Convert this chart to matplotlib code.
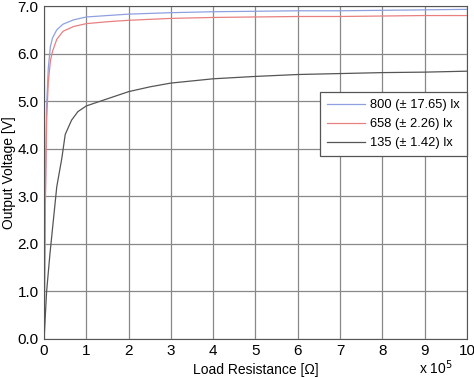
import numpy as np
import matplotlib.pyplot as plt

plt.rcParams['font.family'] = ['Liberation Sans', 'DejaVu Sans']

# load resistance in units of 1e5 ohm
r_800 = [0, 0.03, 0.06, 0.1, 0.15, 0.2, 0.3, 0.45, 0.7, 1.0, 1.5, 2, 3, 4, 5, 6, 7, 8, 9, 10]
v_800 = [0, 3.0, 4.9, 5.7, 6.15, 6.33, 6.5, 6.62, 6.71, 6.77, 6.8, 6.83, 6.86, 6.88, 6.89, 6.9, 6.9, 6.91, 6.92, 6.93]

r_658 = [0, 0.03, 0.06, 0.1, 0.15, 0.2, 0.3, 0.45, 0.7, 1.0, 1.5, 2, 3, 4, 5, 6, 7, 8, 9, 10]
v_658 = [0, 2.8, 4.6, 5.4, 5.85, 6.05, 6.3, 6.47, 6.57, 6.63, 6.67, 6.7, 6.74, 6.76, 6.77, 6.78, 6.78, 6.79, 6.8, 6.8]

r_135 = [0, 0.06, 0.14, 0.3, 0.42, 0.5, 0.65, 0.8, 1.0, 1.5, 2, 2.5, 3, 4, 5, 6, 7, 8, 9, 10]
v_135 = [0, 1.0, 1.8, 3.2, 3.8, 4.3, 4.6, 4.78, 4.9, 5.05, 5.2, 5.3, 5.38, 5.47, 5.52, 5.56, 5.58, 5.6, 5.61, 5.63]

labels = ['800 (\u00b1 17.65) lx', '658 (\u00b1 2.26) lx', '135 (\u00b1 1.42) lx']
colors = ['#8fa0e0', '#e88080', '#555555']

fig = plt.figure(figsize=(4.74, 3.77), dpi=100)
ax = fig.add_axes([0.093, 0.101, 0.892, 0.883])

ax.plot(r_800, v_800, color=colors[0], lw=0.9, label=labels[0])
ax.plot(r_658, v_658, color=colors[1], lw=0.9, label=labels[1])
ax.plot(r_135, v_135, color=colors[2], lw=0.9, label=labels[2])

ax.set_xlim(0, 10)
ax.set_ylim(0, 7)
ax.set_xticks(range(0, 11))
ax.set_yticks(np.arange(0, 7.5, 1.0))
ax.set_yticklabels(['%.1f' % v for v in np.arange(0, 7.5, 1.0)])
ax.grid(True, color='#888888', lw=0.9)
ax.set_axisbelow(True)
ax.tick_params(direction='in', length=0, labelsize=11, pad=4)
for s in ax.spines.values():
    s.set_color('#555555')

ax.set_xlabel('Load Resistance [\u03a9]', fontsize=10, labelpad=3)
ax.set_ylabel('Output Voltage [V]', fontsize=10, labelpad=1)
fig.text(0.885, 0.008, 'x 10$^5$', fontsize=10)

leg = ax.legend(loc='center right', bbox_to_anchor=(1.0, 0.645), fontsize=9.3,
                fancybox=False, framealpha=1, edgecolor='#555555',
                handlelength=2.9, handletextpad=0.4, borderpad=0.55,
                labelspacing=0.55, borderaxespad=0.0)
leg.get_frame().set_linewidth(0.9)

fig.savefig('out.png', dpi=100)
